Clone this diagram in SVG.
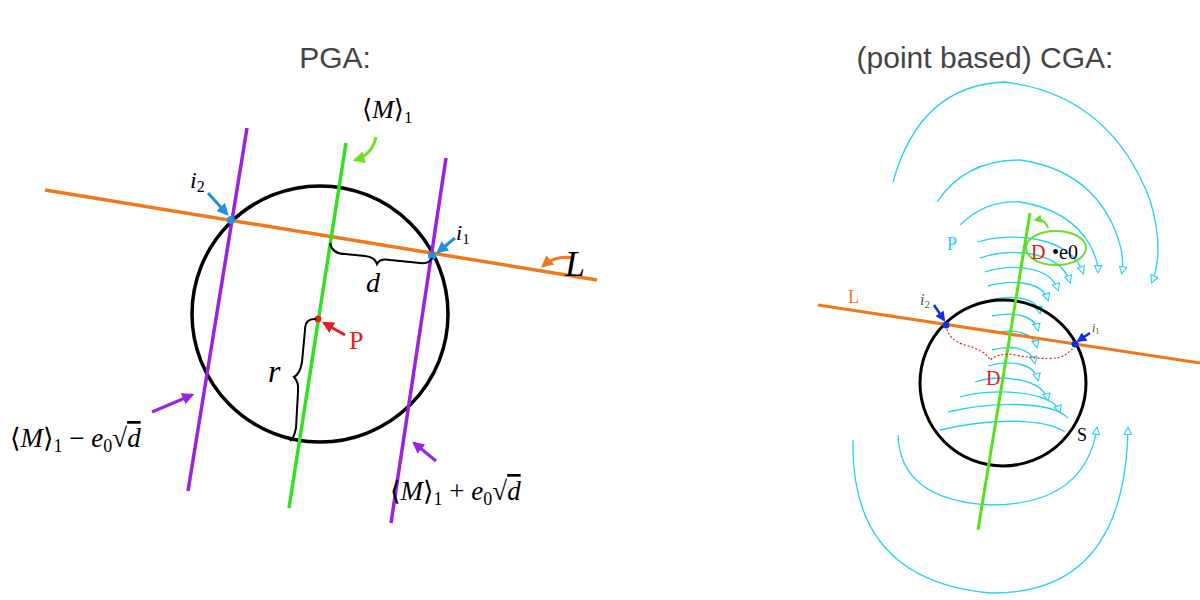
<svg xmlns="http://www.w3.org/2000/svg" width="1200" height="600" viewBox="0 0 1200 600">
<defs>
<marker id="ah" viewBox="0 0 10 10" refX="8" refY="5" markerWidth="4" markerHeight="4" orient="auto-start-reverse"><path d="M0,0 L10,5 L0,10 z" fill="context-stroke"/></marker>
<marker id="oh" viewBox="0 0 10 10" refX="8" refY="5" markerWidth="7" markerHeight="7" orient="auto"><path d="M1,1 L9,5 L1,9 z" fill="#fff" stroke="#22d3ee" stroke-width="1.2"/></marker>
<style>
.t{font-family:"Liberation Sans",Arial,sans-serif;font-size:30px;fill:#444;text-anchor:middle}
.m{font-family:"Liberation Serif","DejaVu Serif",serif;font-style:italic}
.s{font-family:"Liberation Serif","DejaVu Serif",serif}
.cy{fill:none;stroke:#22d3ee;stroke-width:1.3}
</style>
</defs>
<rect width="1200" height="600" fill="#fff"/>
<text class="t" x="335" y="68">PGA:</text>
<text class="t" x="985" y="68">(point based) CGA:</text>

<g id="pga">
<circle cx="320" cy="314" r="128" fill="none" stroke="#000" stroke-width="3.5"/>
<line x1="45" y1="190" x2="597" y2="280" stroke="#f07818" stroke-width="3.5"/>
<line x1="346" y1="143" x2="289" y2="508" stroke="#33e020" stroke-width="3.5"/>
<line x1="247" y1="128" x2="188" y2="491" stroke="#9a22e0" stroke-width="3.5"/>
<line x1="446" y1="158" x2="391" y2="523" stroke="#9a22e0" stroke-width="3.5"/>
<circle cx="231" cy="220" r="4" fill="#2090e0"/>
<circle cx="432" cy="256" r="4" fill="#2090e0"/>
<circle cx="318" cy="319" r="3.5" fill="#e02020"/>
<path d="M330,243 Q332,254 345,254 L365,256 Q375,257 377,264 Q380,258 390,260 L420,263 Q430,264 432,258" fill="none" stroke="#000" stroke-width="2"/>
<path d="M316,319 Q305,318 305,330 L302,362 Q300,374 294,377 Q299,382 298,392 L296,428 Q294,438 290,441" fill="none" stroke="#000" stroke-width="2"/>
<path d="M376,137 Q372,155 355,160" fill="none" stroke="#6ee022" stroke-width="3" marker-end="url(#ah)"/>
<path d="M208,193 L227,214" stroke="#2090e0" stroke-width="3" marker-end="url(#ah)"/>
<path d="M455,238 L438,252" stroke="#2090e0" stroke-width="3" marker-end="url(#ah)"/>
<path d="M574,258 Q556,255 543,266" fill="none" stroke="#f07818" stroke-width="3" marker-end="url(#ah)"/>
<path d="M345,335 L324,323" stroke="#e02020" stroke-width="3" marker-end="url(#ah)"/>
<path d="M152,412 L192,395" stroke="#9a22e0" stroke-width="3" marker-end="url(#ah)"/>
<path d="M436,461 L414,443" stroke="#9a22e0" stroke-width="3" marker-end="url(#ah)"/>
<text class="s" x="362" y="118" font-size="26">⟨<tspan class="m">M</tspan>⟩<tspan font-size="17" dy="5">1</tspan></text>
<text class="m" x="190" y="188" font-size="24">i<tspan font-size="16" font-style="normal" dy="4">2</tspan></text>
<text class="m" x="456" y="240" font-size="22">i<tspan font-size="15" font-style="normal" dy="4">1</tspan></text>
<text class="m" x="565" y="276" font-size="36">L</text>
<text class="m" x="366" y="292" font-size="28">d</text>
<text class="m" x="268" y="382" font-size="32">r</text>
<text class="s" x="349" y="349" font-size="26" fill="#e02020">P</text>
<text class="s" x="10" y="447" font-size="27">⟨<tspan class="m">M</tspan>⟩<tspan font-size="18" dy="5">1</tspan><tspan dy="-5"> − </tspan><tspan class="m">e</tspan><tspan font-size="18" dy="5">0</tspan><tspan dy="-5">√</tspan><tspan class="m" text-decoration="overline">d</tspan></text>
<text class="s" x="390" y="500" font-size="27">⟨<tspan class="m">M</tspan>⟩<tspan font-size="18" dy="5">1</tspan><tspan dy="-5"> + </tspan><tspan class="m">e</tspan><tspan font-size="18" dy="5">0</tspan><tspan dy="-5">√</tspan><tspan class="m" text-decoration="overline">d</tspan></text>
</g>

<g id="cga-field">
<path class="cy" d="M893,182 Q920,85 1005,82 Q1110,95 1150,200 Q1165,250 1152,282" marker-end="url(#oh)"/>
<path class="cy" d="M937,202 Q965,160 1020,160 Q1090,170 1115,230 Q1125,255 1122,273" marker-end="url(#oh)"/>
<path class="cy" d="M960,225 Q985,200 1020,202 Q1070,210 1090,245 Q1098,260 1098,272" marker-end="url(#oh)"/>
<path class="cy" d="M977,242 C1010,232 1070,235 1083,273" marker-end="url(#oh)"/>
<path class="cy" d="M980,258 C1010,248 1060,250 1070,282" marker-end="url(#oh)"/>
<path class="cy" d="M985,272 C1010,264 1050,265 1058,290" marker-end="url(#oh)"/>
<path class="cy" d="M988,286 C1010,280 1042,280 1048,300" marker-end="url(#oh)"/>
<path class="cy" d="M990,300 C1010,295 1036,296 1040,313" marker-end="url(#oh)"/>
<path class="cy" d="M992,316 C1012,312 1034,314 1038,330" marker-end="url(#oh)"/>
<path class="cy" d="M993,333 C1012,329 1033,331 1037,347" marker-end="url(#oh)"/>
<path class="cy" d="M992,350 C1010,345 1031,347 1035,363" marker-end="url(#oh)"/>
<path class="cy" d="M988,366 C1008,360 1034,362 1038,380" marker-end="url(#oh)"/>
<path class="cy" d="M975,382 C1000,374 1042,378 1048,400" marker-end="url(#oh)"/>
<path class="cy" d="M960,397 C990,388 1052,390 1060,412" marker-end="url(#oh)"/>
<path class="cy" d="M948,412 C990,402 1050,400 1068,418"/>
<path class="cy" d="M940,430 C990,418 1045,418 1065,432"/>
<path class="cy" d="M898,435 Q900,500 990,505 Q1085,505 1097,428" marker-end="url(#oh)"/>
<path class="cy" d="M853,440 Q850,580 990,593 Q1125,595 1128,428" marker-end="url(#oh)"/>
</g>

<g id="cga">
<circle cx="1003" cy="383" r="83" fill="none" stroke="#000" stroke-width="3"/>
<line x1="818" y1="305" x2="1200" y2="363" stroke="#f07818" stroke-width="3"/>
<line x1="1030" y1="213" x2="978" y2="530" stroke="#55e020" stroke-width="3"/>
<ellipse cx="1056" cy="248" rx="30" ry="17" fill="none" stroke="#66dd33" stroke-width="2"/>
<path d="M1048,228 Q1045,218 1035,220" fill="none" stroke="#66dd33" stroke-width="2" marker-end="url(#ah)"/>
<path d="M946,325 Q948,340 965,345 Q985,350 990,360 Q1000,352 1015,355 Q1055,362 1065,355 Q1075,348 1075,344" fill="none" stroke="#e02020" stroke-width="1.2" stroke-dasharray="2,2"/>
<circle cx="946" cy="325" r="3.5" fill="#1030e0"/>
<circle cx="1075" cy="344" r="3.5" fill="#1030e0"/>
<path d="M934,305 L944,320" stroke="#1030e0" stroke-width="2.5" marker-end="url(#ah)"/>
<path d="M1090,333 L1078,341" stroke="#1030e0" stroke-width="2.5" marker-end="url(#ah)"/>
<text class="s" x="848" y="303" font-size="18" fill="#f07818">L</text>
<text class="m" x="920" y="305" font-size="16" fill="#555">i<tspan font-size="11" font-style="normal" dy="3">2</tspan></text>
<text class="m" x="1092" y="332" font-size="12" fill="#555">i<tspan font-size="8" font-style="normal" dy="2">1</tspan></text>
<text class="s" x="947" y="250" font-size="18" fill="#22d3ee">P</text>
<text class="s" x="1031" y="259" font-size="20" fill="#e02020">D</text>
<text class="s" x="1052" y="259" font-size="20">•e0</text>
<text class="s" x="986" y="385" font-size="20" fill="#e02020">D</text>
<text class="s" x="1077" y="441" font-size="18">S</text>
</g>
</svg>
